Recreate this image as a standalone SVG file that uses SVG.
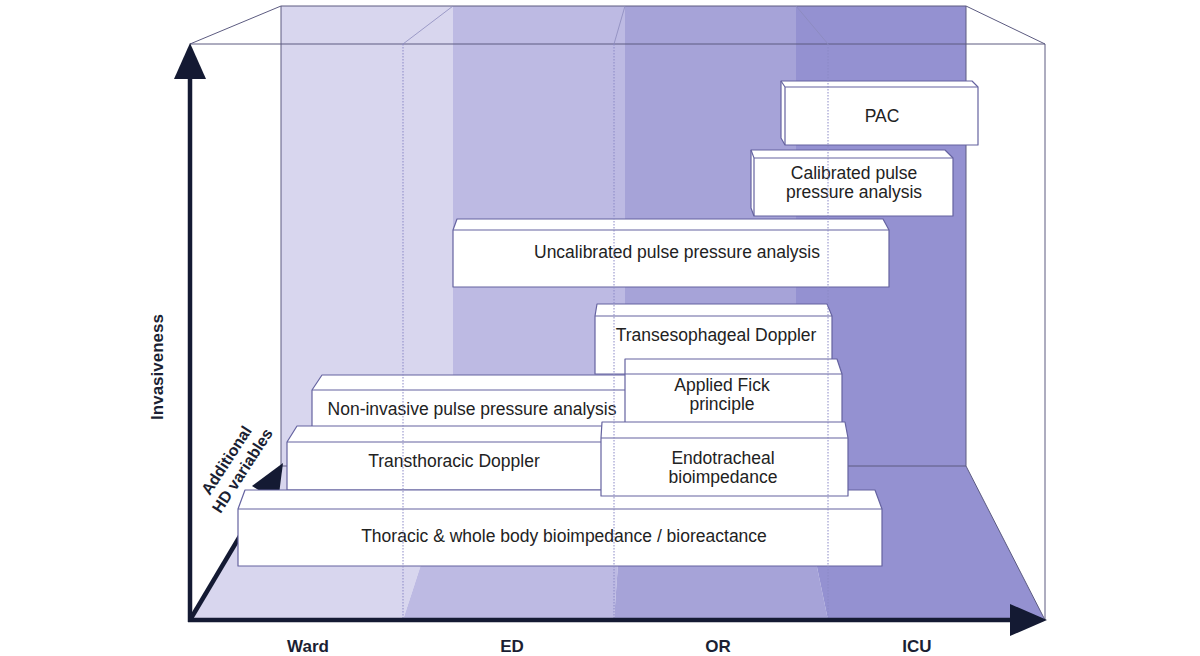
<svg xmlns="http://www.w3.org/2000/svg" width="1200" height="656" viewBox="0 0 1200 656">
<style>
.c1{fill:#d8d6ee}.c2{fill:#bdbae3}.c3{fill:#a6a3d8}.c4{fill:#9491d1}
.frame{fill:none;stroke:#5c5b80;stroke-width:1}
.faint{fill:none;stroke:#8c8abd;stroke-width:0.8}
.dot{fill:none;stroke:#8a88c6;stroke-width:1;stroke-dasharray:1.5 1.5}
.box{fill:#ffffff;stroke:#6563a0;stroke-width:1.2;stroke-linejoin:round}
.edge{fill:none;stroke:#6563a0;stroke-width:1.2}
.t{font-family:"Liberation Sans",Arial,sans-serif;font-size:17.5px;fill:#222222;text-anchor:middle}
.ax{font-family:"Liberation Sans",Arial,sans-serif;font-size:17px;font-weight:bold;fill:#1b1f33;text-anchor:middle}
.axl{stroke:#141a33;stroke-width:4.5;fill:none}
.ah{fill:#141a33}
</style>
<rect width="1200" height="656" fill="#ffffff"/>
<g id="background">
<rect class="c1" x="281" y="6" width="172" height="460"/>
<rect class="c2" x="453" y="6" width="172" height="460"/>
<rect class="c3" x="625" y="6" width="171" height="460"/>
<rect class="c4" x="796" y="6" width="170" height="460"/>
<polygon class="c1" points="190,620 281,466 453,466 403,620"/>
<polygon class="c2" points="403,620 453,466 625,466 614,620"/>
<polygon class="c3" points="614,620 625,466 796,466 828,620"/>
<polygon class="c4" points="828,620 796,466 966,466 1045,620"/>
<path class="frame" d="M281,6 H966 V466 H281 Z"/>
<path class="frame" d="M190,44 H1045 V620"/>
<path class="frame" d="M190,44 L281,6 M1045,44 L966,6 M966,466 L1045,620"/>
<path class="faint" d="M403,44 L453,6 M614,44 L625,6 M828,44 L796,6"/>
</g>
<g id="connectors">
<line class="axl" x1="190" y1="620" x2="265" y2="494"/>
<polygon class="ah" points="283,463 252,486 278,502"/>
</g>
<g id="node-pac">
<path class="box" d="M781,81 H972 L978,87 V145 H785 L781,138 Z"/>
<path class="edge" d="M781,81 L785,87 H978 M785,87 V145"/>
<text class="t" x="882" y="122">PAC</text>
</g>
<g id="node-calibrated">
<path class="box" d="M751,150 H945 L953,158 V216 H754 L751,208 Z"/>
<path class="edge" d="M751,150 L754,158 H953 M754,158 V216"/>
<text class="t" x="854" y="179">Calibrated pulse</text>
<text class="t" x="854" y="198">pressure analysis</text>
</g>
<g id="node-uncalibrated">
<path class="box" d="M457,219 H883 L889,230 V287 H453 V230 Z"/>
<path class="edge" d="M453,230 H889"/>
<text class="t" x="677" y="258">Uncalibrated pulse pressure analysis</text>
</g>
<g id="node-transesophageal">
<path class="box" d="M597,304 H827 L832,316 V374 H595 V316 Z"/>
<path class="edge" d="M595,316 H832"/>
<text class="t" x="716" y="341">Transesophageal Doppler</text>
</g>
<g id="node-noninvasive">
<path class="box" d="M322,375 H695 L700,390 V428 H312 V390 Z"/>
<path class="edge" d="M312,390 H700"/>
<text class="t" x="472" y="415">Non-invasive pulse pressure analysis</text>
</g>
<g id="node-fick">
<path class="box" d="M625,359 H837 L842,374 V430 H625 Z"/>
<path class="edge" d="M625,374 H842"/>
<text class="t" x="722" y="391">Applied Fick</text>
<text class="t" x="722" y="410">principle</text>
</g>
<g id="node-transthoracic">
<path class="box" d="M297,426 H695 L700,442 V490 H287 V442 Z"/>
<path class="edge" d="M287,442 H700"/>
<text class="t" x="454" y="467">Transthoracic Doppler</text>
</g>
<g id="node-thoracic">
<path class="box" d="M245,490 H875 L882,509 V566 H238 V509 Z"/>
<path class="edge" d="M238,509 H882"/>
<text class="t" x="564" y="542">Thoracic &amp; whole body bioimpedance / bioreactance</text>
</g>
<g id="node-endotracheal">
<path class="box" d="M602,422 H845 L848,438 V496 H601 V438 Z"/>
<path class="edge" d="M601,438 H848"/>
<text class="t" x="723" y="464">Endotracheal</text>
<text class="t" x="723" y="483">bioimpedance</text>
</g>
<g id="dividers">
<path class="dot" d="M403,44 V620 M614,44 V620 M828,44 V620"/>
</g>
<g id="axes">
<line class="axl" x1="190" y1="622" x2="190" y2="76"/>
<polygon class="ah" points="174,79 190,43 206,79"/>
<line class="axl" x1="188" y1="620" x2="1013" y2="620"/>
<polygon class="ah" points="1010,604 1047,620 1010,636"/>
</g>
<g id="labels">
<text class="ax" x="308" y="652">Ward</text>
<text class="ax" x="512" y="652">ED</text>
<text class="ax" x="718" y="652">OR</text>
<text class="ax" x="917" y="652">ICU</text>
<text class="ax" transform="translate(163,367) rotate(-90)">Invasiveness</text>
<g transform="translate(226,460) rotate(-57)">
<text class="ax" x="0" y="6" style="font-size:16px">Additional</text>
<text class="ax" x="0" y="25" style="font-size:16px">HD variables</text>
</g>
</g>
</svg>
